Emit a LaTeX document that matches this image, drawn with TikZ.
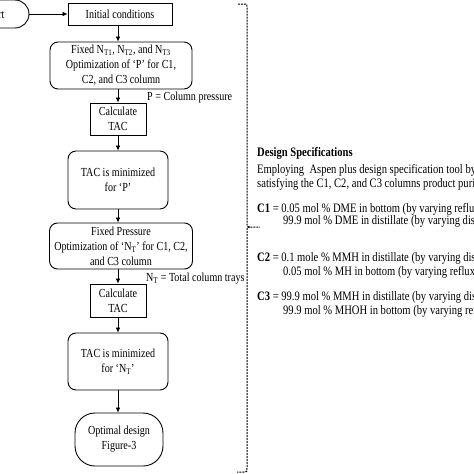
\documentclass[tikz,border=0pt]{standalone}
\usepackage{fontspec}
\setmainfont{Liberation Serif}[FakeStretch=0.82]
\usetikzlibrary{arrows.meta,shapes.misc}
\begin{document}
\begin{tikzpicture}[x=1pt,y=-1pt,
  box/.style={draw, line width=0.9pt, align=center, inner sep=1pt,
    font=\fontsize{12.3}{15}\selectfont},
  rbox/.style={box, rounded corners=8pt},
  arr/.style={-{Latex[length=5pt,width=4.5pt]}, line width=0.7pt},
  lbl/.style={inner sep=0pt, font=\fontsize{12.3}{14}\selectfont},
  spec/.style={inner sep=0pt, anchor=base west, font=\fontsize{12.9}{14}\selectfont},
  brace/.style={line width=1pt, dash pattern=on 2pt off 1pt}]
\useasboundingbox (0,0) rectangle (474,474);
\clip (0,0) rectangle (474,474);
\fill[white] (0,0) rectangle (474,474);

\node[box, rounded rectangle, minimum width=70pt, minimum height=28pt] (start) at (-5,14) {Start};
\node[box, minimum width=104pt, minimum height=22pt] (init) at (120,14) {Initial conditions};
\node[rbox, minimum width=142pt, minimum height=47pt] (opt1) at (121,65.5)
  {Fixed N\textsubscript{T1}, N\textsubscript{T2}, and N\textsubscript{T3}\\Optimization of ‘P’ for C1,\\C2, and C3 column};
\node[box, minimum width=56pt, minimum height=32pt] (calc1) at (118,119) {Calculate\\TAC};
\node[rbox, minimum width=100pt, minimum height=58pt] (min1) at (118,180) {TAC is minimized\\for ‘P’};
\node[rbox, minimum width=143pt, minimum height=46pt] (opt2) at (121,246)
  {Fixed Pressure\\Optimization of ‘N\textsubscript{T}’ for C1, C2,\\and C3 column};
\node[box, minimum width=56pt, minimum height=33pt] (calc2) at (118,300.5) {Calculate\\TAC};
\node[rbox, minimum width=100pt, minimum height=57pt] (min2) at (118,361.5) {TAC is minimized\\for ‘N\textsubscript{T}’};
\node[box, rounded corners=20pt, minimum width=88pt, minimum height=53pt] (final) at (119,439.5) {Optimal design\\Figure-3};

\draw[arr] (start.east) -- (init.west);
\draw[arr] (init.south -| calc1) -- (opt1.north -| calc1);
\draw[arr] (opt1.south -| calc1) -- (calc1.north);
\draw[arr] (calc1.south) -- (min1.north);
\draw[arr] (min1.south) -- (opt2.north -| min1);
\draw[arr] (opt2.south -| calc2) -- (calc2.north);
\draw[arr] (calc2.south) -- (min2.north);
\draw[arr] (min2.south) -- (final.north -| min2);

\node[lbl, anchor=west] (plab) at (147,98) {P = Column pressure};
\node[lbl, anchor=west] (nlab) at (146,279) {N\textsubscript{T} = Total column trays};

% dashed brace
\coordinate (btop) at (238,4);
\coordinate (bmid) at (260,227);
\coordinate (bbot) at (237,472);
\draw[brace] (btop) -- (245,4) .. controls (247,4) .. (247,7) -- (247,223)
  .. controls (247,227) .. (250,227) -- (bmid);
\draw[brace] (250,227) .. controls (247,227) .. (247,231) -- (247,468)
  .. controls (247,472) .. (244,472) -- (bbot);

% design specifications
\node[spec] (ds) at (257,156) {\textbf{Design Specifications}};
\node[spec] (ds1) at (257,173) {Employing\ \ Aspen plus design specification tool by changing};
\node[spec] (ds2) at (257,187) {satisfying the C1, C2, and C3 columns product purity};
\node[spec] (c1a) at (257,212) {\textbf{C1} = 0.05 mol \% DME in bottom (by varying reflux ratio)};
\node[spec] (c1b) at (283,224) {99.9 mol \% DME in distillate (by varying distillate rate)};
\node[spec] (c2a) at (257,261) {\textbf{C2} = 0.1 mole \% MMH in distillate (by varying distillate rate)};
\node[spec] (c2b) at (283,275) {0.05 mol \% MH in bottom (by varying reflux ratio)};
\node[spec] (c3a) at (257,300) {\textbf{C3} = 99.9 mol \% MMH in distillate (by varying distillate rate)};
\node[spec] (c3b) at (283,314) {99.9 mol \% MHOH in bottom (by varying reflux ratio)};
\end{tikzpicture}
\end{document}
